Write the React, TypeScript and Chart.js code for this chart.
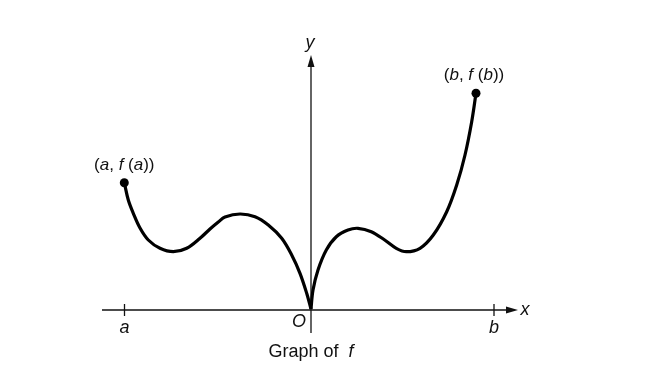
import React, { useEffect, useRef } from "react";
import { Chart, registerables } from "chart.js";

Chart.register(...registerables);

// Curve branches (math units: 1 unit = 10px)
const leftX = [-18.67, -18.27, -17.77, -17.1, -16.27, -15.1, -13.77, -12.43, -11.1, -10.1, -9.27, -8.6, -7.1, -5.6, -4.27, -2.93, -1.93, -1.1, -0.43, 0];
const leftY = [12.73, 11.0, 9.67, 8.2, 7.0, 6.17, 5.83, 6.17, 7.17, 8.1, 8.8, 9.3, 9.6, 9.33, 8.5, 7.17, 5.5, 3.67, 1.67, 0.1];
const rightX = [0, 0.2, 0.7, 1.53, 2.53, 3.7, 4.7, 6.03, 7.37, 8.53, 9.53, 10.9, 12.23, 13.57, 14.57, 15.4, 16.07, 16.5];
const rightY = [0.1, 2.0, 4.0, 6.0, 7.33, 8.0, 8.17, 7.83, 7.0, 6.17, 5.83, 6.17, 7.5, 9.83, 12.5, 15.5, 18.83, 21.67];

// Endpoints
const endX = [-18.67, 16.5];
const endY = [12.73, 21.67];

// Axis ticks
const tickValues = [-18.65, 18.3];
const tickLabels = ["a", "b"];

// Axis extents
const xAxisRange = [-20.9, 20.7];
const yAxisRange = [-2.3, 25.5];

type Seg = [string, boolean];
const FONT = '"Liberation Sans", Arial, Helvetica, sans-serif';

function drawRich(ctx: CanvasRenderingContext2D, segs: Seg[], x: number, y: number, size: number, align: "left" | "center") {
  const fontOf = (it: boolean) => `${it ? "italic " : ""}${size}px ${FONT}`;
  let total = 0;
  for (const [t, it] of segs) {
    ctx.font = fontOf(it);
    total += ctx.measureText(t).width;
  }
  let cx = align === "center" ? x - total / 2 : x;
  ctx.textAlign = "left";
  ctx.textBaseline = "alphabetic";
  for (const [t, it] of segs) {
    ctx.font = fontOf(it);
    ctx.fillText(t, cx, y);
    cx += ctx.measureText(t).width;
  }
}

const axesPlugin = {
  id: "mathAxes",
  beforeDatasetsDraw(chart: any) {
    const ctx: CanvasRenderingContext2D = chart.ctx;
    const xs = chart.scales.x;
    const ys = chart.scales.y;
    const X = (v: number) => xs.getPixelForValue(v);
    const Y = (v: number) => ys.getPixelForValue(v);
    ctx.save();
    ctx.strokeStyle = "#111";
    ctx.fillStyle = "#111";
    ctx.lineWidth = 1.3;
    const ox = X(0), oy = Y(0);
    const xl = X(xAxisRange[0]), xr = X(xAxisRange[1]);
    const yb = Y(yAxisRange[0]), yt = Y(yAxisRange[1]);
    // x axis
    ctx.beginPath();
    ctx.moveTo(xl, oy);
    ctx.lineTo(xr - 8, oy);
    ctx.stroke();
    ctx.beginPath();
    ctx.moveTo(xr, oy);
    ctx.lineTo(xr - 12, oy - 3.5);
    ctx.lineTo(xr - 12, oy + 3.5);
    ctx.closePath();
    ctx.fill();
    // y axis
    ctx.beginPath();
    ctx.moveTo(ox, yb);
    ctx.lineTo(ox, yt + 8);
    ctx.stroke();
    ctx.beginPath();
    ctx.moveTo(ox, yt);
    ctx.lineTo(ox - 3.5, yt + 12);
    ctx.lineTo(ox + 3.5, yt + 12);
    ctx.closePath();
    ctx.fill();
    // ticks
    tickValues.forEach((v, i) => {
      const px = X(v);
      ctx.beginPath();
      ctx.moveTo(px, oy - 6);
      ctx.lineTo(px, oy + 6);
      ctx.stroke();
      drawRich(ctx, [[tickLabels[i], true]], px, oy + 23, 18, "center");
    });
    drawRich(ctx, [["x", true]], xr + 7, oy + 5, 18, "center");
    drawRich(ctx, [["y", true]], ox - 1, yt - 7, 18, "center");
    drawRich(ctx, [["O", true]], ox - 12, oy + 17, 18, "center");
    drawRich(ctx, [["Graph of  ", false], ["f", true]], ox, oy + 47, 18, "center");
    // point labels
    drawRich(ctx, [["(", false], ["a", true], [", ", false], ["f", true], [" (", false], ["a", true], ["))", false]], X(endX[0]), Y(endY[0]) - 13, 17, "center");
    drawRich(ctx, [["(", false], ["b", true], [", ", false], ["f", true], [" (", false], ["b", true], ["))", false]], X(endX[1]) - 2, Y(endY[1]) - 13, 17, "center");
    ctx.restore();
  },
};

export default function App() {
  const ref = useRef<HTMLCanvasElement | null>(null);
  useEffect(() => {
    if (!ref.current) return;
    const chart = new Chart(ref.current, {
      type: "scatter",
      data: {
        datasets: [
          {
            data: leftX.map((x, i) => ({ x, y: leftY[i] })),
            showLine: true,
            borderColor: "#000",
            borderWidth: 3.2,
            pointRadius: 0,
            tension: 0.35,
          },
          {
            data: rightX.map((x, i) => ({ x, y: rightY[i] })),
            showLine: true,
            borderColor: "#000",
            borderWidth: 3.2,
            pointRadius: 0,
            tension: 0.35,
          },
          {
            data: endX.map((x, i) => ({ x, y: endY[i] })),
            showLine: false,
            backgroundColor: "#000",
            borderColor: "#000",
            pointRadius: 4.5,
            borderWidth: 0,
          },
        ],
      } as any,
      options: {
        animation: false,
        responsive: false,
        layout: { padding: 0, autoPadding: false },
        plugins: { legend: { display: false }, tooltip: { enabled: false }, title: { display: false } },
        scales: {
          x: { type: "linear", display: false, min: -31.1, max: 34.9 },
          y: { type: "linear", display: false, min: -7, max: 31 },
        },
      },
      plugins: [axesPlugin],
    });
    return () => chart.destroy();
  }, []);
  return (
    <div style={{ position: "fixed", left: 0, top: 0, width: 660, height: 380, background: "#fff" }}>
      <canvas ref={ref} width={660} height={380} style={{ width: 660, height: 380, display: "block" }} />
    </div>
  );
}
